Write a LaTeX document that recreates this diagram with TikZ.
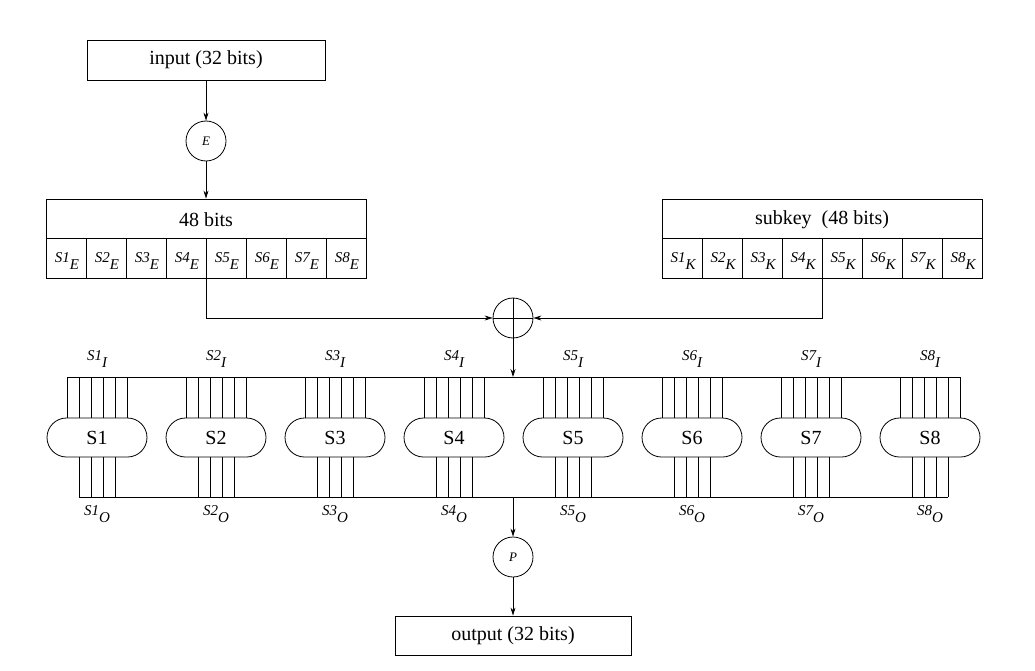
\documentclass[tikz,border=0pt]{standalone}
\usepackage{fontspec}
\setmainfont{Liberation Serif}
\usetikzlibrary{arrows.meta,shapes.misc}
\begin{document}
\begin{tikzpicture}[x=1pt,y=-1pt, line width=0.8pt,
  box/.style={draw, rectangle, inner sep=0pt, font=\fontsize{20}{24}\selectfont},
  op/.style={draw, circle, minimum size=40pt, inner sep=0pt, font=\fontsize{13}{15}\selectfont\itshape},
  sbox/.style={draw, rounded rectangle, minimum width=100pt, minimum height=39pt, inner sep=0pt, font=\fontsize{20}{24}\selectfont},
  lab/.style={font=\fontsize{15}{17}\selectfont\itshape, inner sep=0pt},
  big/.style={font=\fontsize{20}{24}\selectfont, inner sep=0pt},
  arr/.style={-{Stealth[length=8pt,width=5pt]}}]
\useasboundingbox[fill=white] (0,0) rectangle (1035,671);
% input and E
\node[box, minimum width=238pt, minimum height=40pt] (input) at (206,60) {input (32 bits)};
\node[op] (E) at (206,141) {E};
\draw[arr] (input.south) -- (E.north);
% 48 bits box
\node[draw, rectangle, minimum width=320pt, minimum height=79pt, inner sep=0pt] (b48) at (206,238.5) {};
\node[big] (b48t) at (206,220) {48 bits};
\draw (b48.west) -- (b48.east);
\foreach \i in {1,...,7} \draw (46+40*\i,239) -- (46+40*\i,278);
\foreach \i in {1,...,8} \node[lab] (e\i) at (67+40*\i-40,261) {S\i\raisebox{-6.5pt}{E}};
\draw[arr] (E.south) -- (b48.north);
% subkey box
\node[draw, rectangle, minimum width=320pt, minimum height=79pt, inner sep=0pt] (key) at (822,238.5) {};
\node[big] (keyt) at (822,220) {subkey\ \ (48 bits)};
\draw (key.west) -- (key.east);
\foreach \i in {1,...,7} \draw (662+40*\i,239) -- (662+40*\i,278);
\foreach \i in {1,...,8} \node[lab] (k\i) at (683+40*\i-40,261) {S\i\raisebox{-6.5pt}{K}};
% XOR
\node[draw, circle, minimum size=40pt, inner sep=0pt] (xor) at (513,318) {};
\draw (xor.north) -- (xor.south);
\draw (xor.west) -- (xor.east);
\draw[arr] (b48.south) |- (xor.west);
\draw[arr] (key.south) |- (xor.east);
% buses
\coordinate (tbL) at (67,377);
\coordinate (tbR) at (960,377);
\coordinate (tbin) at (513,377);
\coordinate (bbL) at (79,497);
\coordinate (bbR) at (948,497);
\coordinate (bbout) at (513,497);
\draw (tbL) -- (tbR);
\draw (bbL) -- (bbR);
\draw[arr] (xor.south) -- (tbin);
% S-boxes
\foreach \i in {1,...,8}{
  \pgfmathsetmacro{\cx}{97+119*(\i-1)}
  \node[sbox] (s\i) at (\cx,437.5) {S\i};
  \foreach \d in {-30,-18,-6,6,18,30} \draw ([xshift=\d pt]s\i.north) -- ++(0,-41);
  \foreach \d in {-18,-6,6,18} \draw ([xshift=\d pt]s\i.south) -- ++(0,39.5);
  \node[lab] (si\i) at (\cx,359) {S\i\raisebox{-6.5pt}{I}};
  \node[lab] (so\i) at (\cx,514) {S\i\raisebox{-6.5pt}{O}};
}
% P and output
\node[op] (P) at (513,557) {P};
\node[box, minimum width=236pt, minimum height=39pt] (out) at (513,635.5) {output (32 bits)};
\draw[arr] (bbout) -- (P.north);
\draw[arr] (P.south) -- (out.north);
\end{tikzpicture}
\end{document}
